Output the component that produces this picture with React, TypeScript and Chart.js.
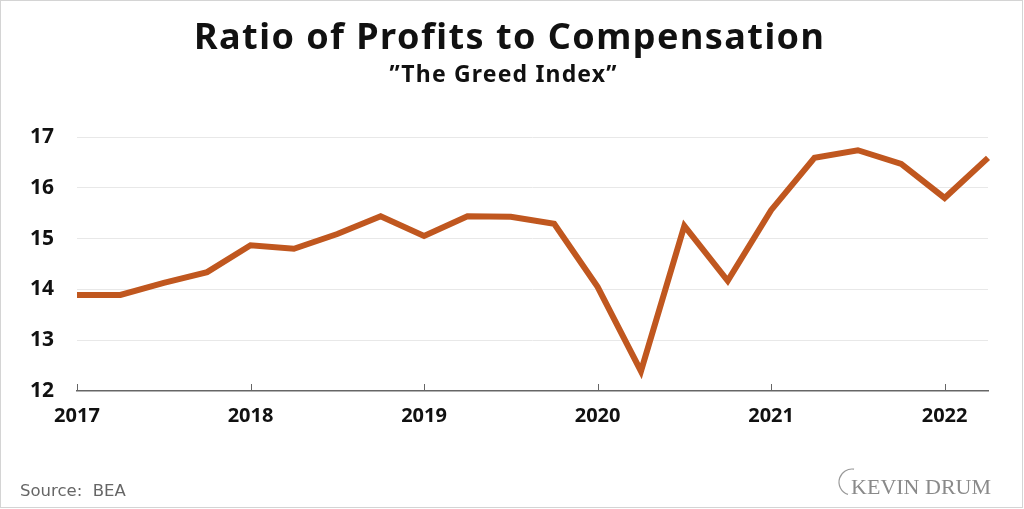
import React, { useEffect, useRef } from "react";
import { Chart, registerables } from "chart.js";

Chart.register(...registerables);

const quarters: string[] = [
  "2017 Q1", "2017 Q2", "2017 Q3", "2017 Q4",
  "2018 Q1", "2018 Q2", "2018 Q3", "2018 Q4",
  "2019 Q1", "2019 Q2", "2019 Q3", "2019 Q4",
  "2020 Q1", "2020 Q2", "2020 Q3", "2020 Q4",
  "2021 Q1", "2021 Q2", "2021 Q3", "2021 Q4",
  "2022 Q1", "2022 Q2",
];

const ratio: number[] = [
  13.89, 13.89, 14.13, 14.34,
  14.87, 14.80, 15.09, 15.44,
  15.05, 15.44, 15.43, 15.29,
  14.05, 12.39, 15.25, 14.17,
  15.56, 16.59, 16.74, 16.47,
  15.80, 16.59,
];

const yTicks: number[] = [12, 13, 14, 15, 16, 17];

const TITLE = "Ratio of Profits to Compensation";
const SUBTITLE = "\u201DThe Greed Index\u201D";
const SOURCE = "Source:  BEA";
const LOGO = "KEVIN DRUM";

const FONT = "'Noto Sans', Lato, sans-serif";

function fitText(ctx: CanvasRenderingContext2D, text: string, cx: number, y: number, target: number) {
  (ctx as any).letterSpacing = "0px";
  const w = ctx.measureText(text).width;
  const sp = (target - w) / (text.length - 1);
  (ctx as any).letterSpacing = `${sp.toFixed(2)}px`;
  const w2 = ctx.measureText(text).width;
  ctx.textAlign = "left";
  ctx.fillText(text, cx - w2 / 2 + sp / 2, y);
  (ctx as any).letterSpacing = "0px";
}

export default function App() {
  const ref = useRef<HTMLCanvasElement | null>(null);

  useEffect(() => {
    document.body.style.margin = "0";
    const canvas = ref.current;
    if (!canvas) return;

    const decor = {
      id: "decor",
      afterDraw(chart: any) {
        const ctx = chart.ctx as CanvasRenderingContext2D;
        const x = chart.scales.x;
        const area = chart.chartArea;
        ctx.save();
        // year tick marks pointing up from axis
        ctx.strokeStyle = "#666";
        ctx.lineWidth = 1;
        quarters.forEach((q, i) => {
          if (q.endsWith("Q1")) {
            const px = Math.round(x.getPixelForValue(i)) + 0.5;
            ctx.beginPath();
            ctx.moveTo(px, area.bottom);
            ctx.lineTo(px, area.bottom - 7);
            ctx.stroke();
          }
        });
        // titles
        ctx.fillStyle = "#111";
        ctx.textBaseline = "alphabetic";
        ctx.font = `bold 36px ${FONT}`;
        fitText(ctx, TITLE, 509, 49, 630);
        ctx.font = `bold 23px ${FONT}`;
        fitText(ctx, SUBTITLE, 503, 82, 227);
        // source
        ctx.textAlign = "left";
        ctx.fillStyle = "#666";
        ctx.font = "16.5px 'DejaVu Sans', sans-serif";
        ctx.fillText(SOURCE, 20, 496);
        // logo
        ctx.fillStyle = "#8a8a8a";
        ctx.font = "22px 'Liberation Serif', serif";
        ctx.textAlign = "right";
        ctx.fillText(LOGO, 991, 494);
        ctx.strokeStyle = "#999";
        ctx.lineWidth = 1.2;
        ctx.beginPath();
        ctx.arc(852, 482, 13, Math.PI * 0.6, Math.PI * 1.55);
        ctx.stroke();
        // border
        ctx.strokeStyle = "#d4d4d4";
        ctx.lineWidth = 1;
        ctx.strokeRect(0.5, 0.5, 1022, 507);
        ctx.restore();
      },
    };

    const chart = new Chart(canvas, {
      type: "line",
      data: {
        labels: quarters,
        datasets: [
          {
            data: ratio,
            borderColor: "#C0571F",
            borderWidth: 6,
            pointRadius: 0,
            tension: 0,
            borderJoinStyle: "miter",
            fill: false,
          },
        ],
      },
      options: {
        responsive: false,
        animation: false,
        layout: { padding: { left: 0, right: 36, top: 137, bottom: 0 } },
        plugins: {
          legend: { display: false },
          tooltip: { enabled: false },
          title: { display: false },
        },
        scales: {
          x: {
            type: "category",
            offset: false,
            grid: { display: false, drawTicks: false },
            border: { display: true, color: "#666", width: 1.5 },
            ticks: {
              autoSkip: false,
              maxRotation: 0,
              padding: 13,
              color: "#111",
              font: { family: FONT, size: 20, weight: "bold" },
              callback: (_v: any, i: number) => {
                const q = quarters[i];
                return q.endsWith("Q1") ? q.slice(0, 4) : "";
              },
            },
            afterFit: (s: any) => {
              s.height = 509 - 391;
            },
          },
          y: {
            min: yTicks[0],
            max: yTicks[yTicks.length - 1],
            grid: {
              drawTicks: false,
              color: (c: any) => (c.tick && c.tick.value === yTicks[0] ? "rgba(0,0,0,0)" : "#e8e8e8"),
              lineWidth: 1,
            },
            border: { display: false },
            ticks: {
              stepSize: 1,
              padding: 23,
              color: "#111",
              font: { family: FONT, size: 21, weight: "bold" },
            },
            afterFit: (s: any) => {
              s.width = 77;
            },
          },
        },
      },
      plugins: [decor],
    } as any);

    return () => chart.destroy();
  }, []);

  return (
    <div style={{ width: 1024, height: 509, background: "#fff" }}>
      <canvas ref={ref} width={1024} height={509} style={{ display: "block" }} />
    </div>
  );
}
